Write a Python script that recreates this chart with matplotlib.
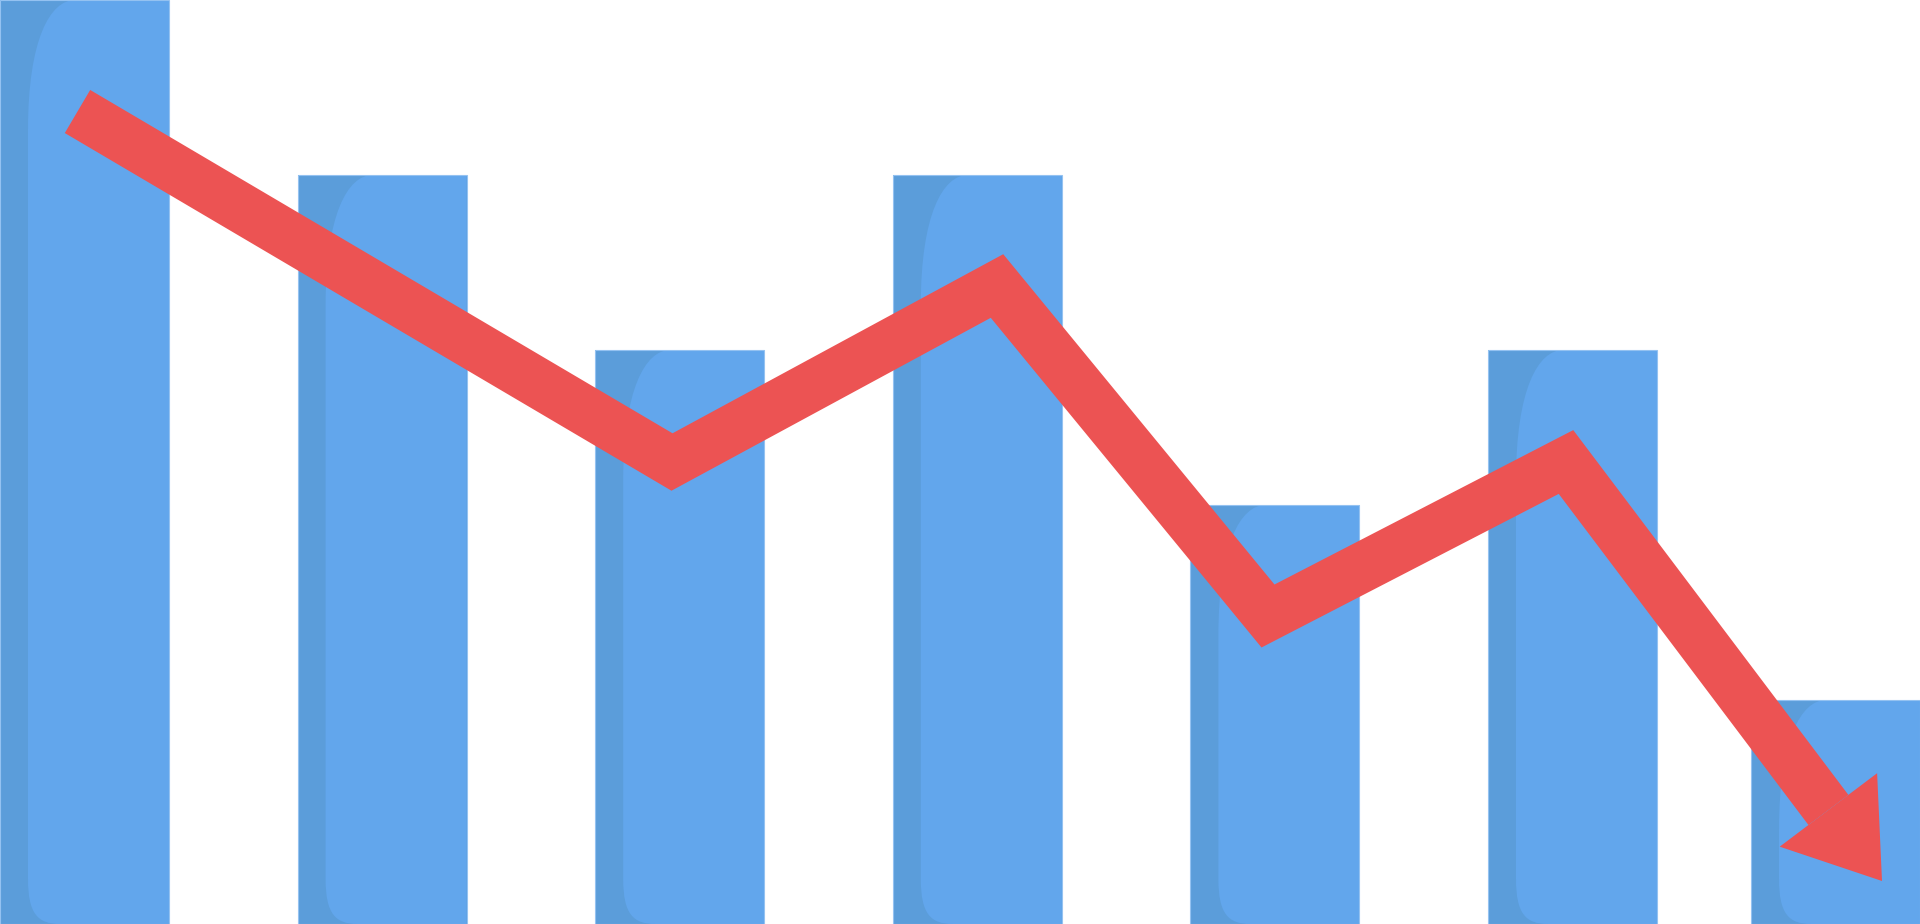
import matplotlib
matplotlib.use("Agg")
import matplotlib.pyplot as plt
import numpy as np
from matplotlib.path import Path
from matplotlib.patches import PathPatch

# ---------------------------------------------------------
# Data (canvas units: x 0..1920, y 0..924 measured from bottom)
# ---------------------------------------------------------
categories = ["1", "2", "3", "4", "5", "6", "7"]
bar_heights = [924, 749, 574, 749, 419, 574, 224]

# trend line through the bars, ending at the arrow tip
trend_x = [77.5, 672, 997, 1268, 1566, 1882]
trend_y = [812.5, 462, 638, 308, 462, 43]

# ---------------------------------------------------------
# Layout / style
# ---------------------------------------------------------
W, H = 1920, 924
bar_w = 169
pitch = 297.6
dark_blue = "#5B9DDA"
light_blue = "#62A6EC"
edge_blue = "#94C2F1"
red = "#EC5353"
line_px = 50          # stroke width in pixels
head_len = 89
head_half = 61

fig = plt.figure(figsize=(W / 100, H / 100), dpi=100)
ax = fig.add_axes([0, 0, 1, 1])
ax.set_xlim(0, W)
ax.set_ylim(0, H)
ax.axis("off")

bar_left = [min(i * pitch, W - bar_w) for i in range(len(categories))]

# base bars (dark strip shows on the left)
ax.bar(bar_left, bar_heights, width=bar_w, align="edge",
       color=dark_blue, linewidth=0, zorder=1)

# lighter rounded face over each bar
for left, top in zip(bar_left, bar_heights):
    L, R, T = left, left + bar_w, top
    verts = [
        (L + 28, T - 130),
        (L + 28, 45),
        (L + 28, 10), (L + 38, 0), (L + 60, 0),
        (R, 0),
        (R, T),
        (L + 75, T),
        (L + 50, T), (L + 28, T - 40), (L + 28, T - 130),
        (L + 28, T - 130),
    ]
    codes = [Path.MOVETO, Path.LINETO,
             Path.CURVE4, Path.CURVE4, Path.CURVE4,
             Path.LINETO, Path.LINETO, Path.LINETO,
             Path.CURVE4, Path.CURVE4, Path.CURVE4,
             Path.CLOSEPOLY]
    ax.add_patch(PathPatch(Path(verts, codes), facecolor=light_blue,
                           edgecolor="none", zorder=2))

# faint light outline
ax.bar(bar_left, bar_heights, width=bar_w, align="edge", fill=False,
       edgecolor=edge_blue, linewidth=0.8, zorder=3)

# ---------------------------------------------------------
# Red trend arrow
# ---------------------------------------------------------
tip = np.array([trend_x[-1], trend_y[-1]])
prev = np.array([trend_x[-2], trend_y[-2]])
u = (tip - prev) / np.linalg.norm(tip - prev)
perp = np.array([-u[1], u[0]])
base = tip - head_len * u

xs = trend_x[:-1] + [base[0]]
ys = trend_y[:-1] + [base[1]]
ax.plot(xs, ys, color=red, linewidth=line_px * 72 / 100,
        solid_joinstyle="miter", solid_capstyle="butt", zorder=4)

head = np.array([tip, base + head_half * perp, base - head_half * perp])
ax.fill(head[:, 0], head[:, 1], color=red, linewidth=0, zorder=5)

fig.savefig("out.png", dpi=100)
plt.close(fig)
